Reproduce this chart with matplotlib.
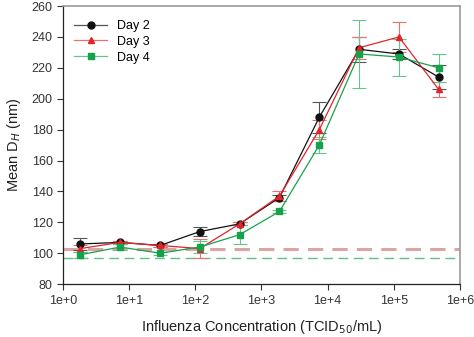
import numpy as np
import matplotlib
matplotlib.use('Agg')
import matplotlib.pyplot as plt
from matplotlib.lines import Line2D

plt.rcParams['font.family'] = ['Liberation Sans', 'DejaVu Sans']

conc = [1.83, 7.3, 29.3, 117, 469, 1875, 7500, 30000, 120000, 480000]

day2 = [106, 107, 105, 114, 119, 136, 188, 232, 229, 214]
day2_err = [4, 1, 1, 3, 1, 2, 10, 8, 3, 8]
day3 = [103, 107, 105, 103, 119, 137, 180, 233, 240, 206]
day3_err = [2, 1, 1, 6, 1, 3, 6, 7, 10, 5]
day4 = [99, 104, 100, 104, 112, 127, 170, 229, 227, 220]
day4_err = [2, 2, 1, 4, 6, 1, 5, 22, 12, 9]

baseline_red = 102.5
baseline_green = 97

fig = plt.figure(figsize=(4.74, 3.37), dpi=100)
ax = fig.add_axes([0.133, 0.157, 0.837, 0.825])

ax.axhline(baseline_red, color='#d9a5a5', lw=2.2, ls=(0, (5, 3)), zorder=1)
ax.axhline(baseline_green, color='#5fc08a', lw=1.0, ls=(0, (7, 4)), zorder=1)

series = [
    (day2, day2_err, 'Day 2', '#111111', '#555555', 'o'),
    (day3, day3_err, 'Day 3', '#e3242b', '#e87070', '^'),
    (day4, day4_err, 'Day 4', '#16a24b', '#66c48e', 's'),
]
handles = []
for y, e, lab, c, ec, m in series:
    ax.errorbar(conc, y, yerr=e, color=c, ecolor=ec, elinewidth=0.8,
                capsize=5, capthick=0.8, lw=0.9, marker=m, ms=5,
                mec=c, mfc=c, zorder=3)
    handles.append(Line2D([], [], color=ec, lw=0.9, marker=m, ms=5,
                          mec=c, mfc=c, label=lab))

ax.set_xscale('log')
ax.set_xlim(1, 1e6)
ax.set_ylim(80, 260)
ax.set_xticks([1, 10, 100, 1e3, 1e4, 1e5, 1e6])
ax.set_xticklabels(['1e+0', '1e+1', '1e+2', '1e+3', '1e+4', '1e+5', '1e+6'])
ax.xaxis.set_minor_locator(matplotlib.ticker.NullLocator())
ax.set_yticks(np.arange(80, 261, 20))
ax.tick_params(labelsize=9, direction='out', length=4, width=0.8, colors='#333333')

for s in ['top', 'right']:
    ax.spines[s].set_color('#999999')
    ax.spines[s].set_linewidth(1.2)
for s in ['left', 'bottom']:
    ax.spines[s].set_color('#222222')
    ax.spines[s].set_linewidth(0.9)

ax.set_xlabel('Influenza Concentration (TCID$_{50}$/mL)', fontsize=10.5,
              color='#222222', labelpad=8)
ax.set_ylabel('Mean D$_H$ (nm)', fontsize=10.5, color='#222222', labelpad=6)

ax.legend(handles=handles, loc='upper left', frameon=False, fontsize=9,
          handlelength=2.6, bbox_to_anchor=(0.0, 0.99), labelspacing=0.3)

fig.savefig('out.png', dpi=100)
